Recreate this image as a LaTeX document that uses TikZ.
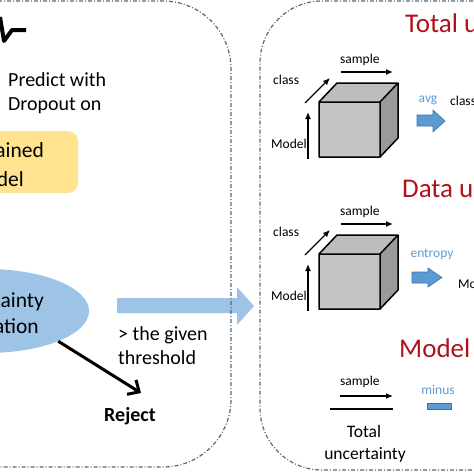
\documentclass[tikz,border=0pt]{standalone}
\usepackage{fontspec}
\setmainfont{Carlito}
\usetikzlibrary{arrows.meta,positioning,shapes.geometric}
\definecolor{frame}{HTML}{4F6B82}
\definecolor{lightblue}{HTML}{9DC3E6}
\definecolor{midblue}{HTML}{5B9BD5}
\definecolor{edgeblue}{HTML}{41719C}
\definecolor{paleyellow}{HTML}{FFE38F}
\definecolor{darkred}{HTML}{B0121B}
\definecolor{frontgray}{HTML}{C4C4C4}
\definecolor{topgray}{HTML}{BDBDBD}
\definecolor{sidegray}{HTML}{9A9A9A}

\begin{document}
\begin{tikzpicture}[x=1pt,y=-1pt,>=Latex,
    panel/.style={draw=frame,line width=1.2pt,dash pattern=on 4pt off 2pt on 1pt off 2pt},
    txt/.style={inner sep=0pt,font=\fontsize{20}{24}\selectfont},
    big/.style={inner sep=0pt,font=\fontsize{21.5}{26}\selectfont},
    head/.style={inner sep=0pt,anchor=base west,text=darkred,font=\fontsize{27}{32}\selectfont},
    small/.style={inner sep=0pt,font=\fontsize{13.5}{16}\selectfont},
    op/.style={small,anchor=base,text=midblue},
    axis/.style={->,line width=1.3pt,>={Latex[length=7pt,width=6pt]}},
    blockarrow/.style={fill=midblue,draw=edgeblue,line width=0.6pt}]
    \useasboundingbox (0,0) rectangle (474,474);

    % left panel
    \node[ellipse,fill=lightblue,minimum width=204,minimum height=84] (est) at (-13,311) {};
    \node[big,anchor=base east] (unc) at (44,307) {Uncertainty};
    \node[big,anchor=base east] (estim) at (39,333) {Estimation};
    \node[fill=paleyellow,rounded corners=10,minimum width=146,minimum height=62] (box) at (5,162) {};
    \node[big,anchor=base east] (trained) at (44,157) {Trained};
    \node[big,anchor=base east] (model) at (24,186) {Model};
    \draw[line width=4pt,line join=round] (0,17) -- (4,41) -- (12,30) -- (26,30);
    \node[txt,anchor=base west] (predict) at (8,86) {Predict with};
    \node[txt,anchor=base west] (dropout) at (8,110) {Dropout on};
    \node[txt,anchor=base west] (given) at (118,340) {> the given};
    \node[txt,anchor=base west] (thresh) at (118,364) {threshold};
    \node[txt,anchor=base,font=\fontsize{20}{24}\selectfont\bfseries] (reject) at (130,421) {Reject};
    \coordinate (tip) at (141,393);
    \draw[line width=3pt,-{Straight Barb[length=9pt,width=17pt]}] (est.-23) -- (tip);

    % big arrow
    \fill[lightblue] (117,298) -- (237,298) -- (237,287) -- (254,306)
        -- (237,325) -- (237,313) -- (117,313) -- cycle;

    % panels
    \draw[panel,rounded corners=68] (-20,1) -- (231,1) -- (231,467) -- (-20,467);
    \draw[panel,rounded corners=62] (500,1) -- (260,1) -- (260,470) -- (500,470);

    % right panel, cubes
    \node[head] (total) at (405,32) {Total uncertainty};
    \node[head] (data) at (402,197) {Data uncertainty};
    \node[head] (modunc) at (399,357) {Model uncertainty};
    \foreach \y/\n in {102/1,254/2}{
        \begin{scope}[shift={(319,\y)}]
            \fill[topgray] (0,0) -- (18,-19) -- (79,-19) -- (61,0) -- cycle;
            \fill[frontgray] (0,0) rectangle (61,55);
            \fill[sidegray] (61,0) -- (79,-19) -- (79,36) -- (61,55) -- cycle;
            \draw[line width=1.5pt,line join=round] (0,0) rectangle (61,55)
                (0,0) -- (18,-19) -- (79,-19) -- (79,36) -- (61,55) (61,0) -- (79,-19);
            \node[small,anchor=base west] (sample\n) at (21,-39) {sample};
            \node[small,anchor=base west] (class\n) at (-46,-18) {class};
            \node[small,anchor=base west] (model\n) at (-48,46) {Model};
            \draw[axis] (22,-30) -- (74,-30);
            \draw[axis] (-14,1) -- (11,-24);
            \draw[axis] (-11,57) -- (-11,10);
        \end{scope}
    }

    % operations
    \draw[blockarrow] (417,115) -- (433,115) -- (433,110) -- (445,121)
        -- (433,132) -- (433,126) -- (417,126) -- cycle;
    \node[op] (avg) at (428,102) {avg};
    \node[small,anchor=base west] (out1) at (450,105) {class};
    \draw[blockarrow] (412,272) -- (428,272) -- (428,268) -- (442,277.5)
        -- (428,287) -- (428,283) -- (412,283) -- cycle;
    \node[op] (entropy) at (432,257) {entropy};
    \node[small,anchor=base west] (out2) at (458,288) {Model};

    % model uncertainty
    \node[small,anchor=base west] (sample3) at (340,385) {sample};
    \draw[axis] (340,396) -- (393,396);
    \draw[line width=2.5pt] (330,409) -- (393,409);
    \node[font=\fontsize{17.5}{21}\selectfont,inner sep=0pt,anchor=base] (tot) at (364,437) {Total};
    \node[font=\fontsize{17.5}{21}\selectfont,inner sep=0pt,anchor=base] (uncert) at (365,459) {uncertainty};
    \node[op] (minus) at (438,394) {minus};
    \draw[blockarrow] (427,403) rectangle (451,409);
\end{tikzpicture}
\end{document}
